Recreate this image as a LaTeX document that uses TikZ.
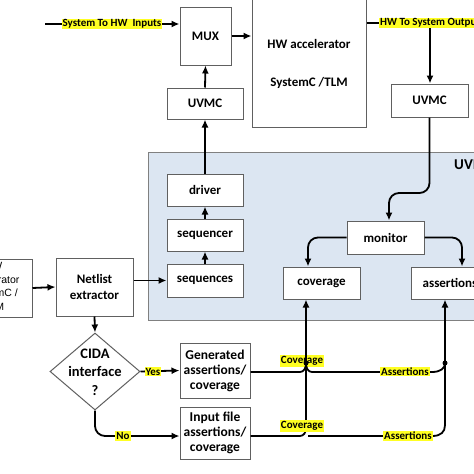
\documentclass[tikz,border=0pt]{standalone}
\usepackage{fontspec}
\setmainfont{Carlito}
\newfontfamily\arialf{Liberation Sans}
\usetikzlibrary{arrows.meta,shapes.geometric}
\definecolor{boxgray}{HTML}{606060}
\definecolor{envfill}{HTML}{DCE6F2}
\definecolor{envdraw}{HTML}{808080}
\definecolor{hlyellow}{HTML}{FFFF22}
\begin{document}
\begin{tikzpicture}[x=1pt,y=-1pt,
  box/.style={draw=boxgray, line width=1pt, fill=white, align=center, inner sep=0pt,
    font=\bfseries\fontsize{13}{15.5}\selectfont},
  txt/.style={font=\bfseries\fontsize{13}{15.5}\selectfont, align=center, inner sep=0pt},
  arr/.style={line width=1.8pt, -{Latex[length=8pt,width=7pt]}},
  ln/.style={line width=1.8pt},
  hl/.style={fill=hlyellow, inner sep=1pt, font=\bfseries\fontsize{11}{13}\selectfont},
  dot/.style={circle, fill=black, inner sep=0pt, minimum size=5pt}]
\useasboundingbox (0,0) rectangle (474,474);
\clip (0,0) rectangle (474,474);
\fill[white] (0,0) rectangle (474,474);

% UVM environment
\node[draw=envdraw, fill=envfill, line width=1pt, minimum width=360, minimum height=168, inner sep=0pt] (env) at (328,236) {};
\node[anchor=west, font=\bfseries\fontsize{15}{18}\selectfont, inner sep=0pt] (envlbl) at (454,165) {UVM};

% top boxes
\node[box, minimum width=51, minimum height=58] (mux) at (205.5,36) {MUX};
\node[box, minimum width=114, minimum height=134] (hw) at (309,60) {};
\node[txt] (hwt1) at (309,44) {HW accelerator};
\node[txt] (hwt2) at (309,83) {SystemC /TLM};
\node[box, minimum width=76, minimum height=31] (uvmcL) at (205,103.5) {UVMC};
\node[box, minimum width=77, minimum height=33] (uvmcR) at (429.5,100.5) {UVMC};

% env boxes
\node[box, minimum width=76, minimum height=32] (driver) at (205,190) {driver};
\node[box, minimum width=76, minimum height=32] (seqr) at (205,235) {sequencer};
\node[box, minimum width=76, minimum height=33] (seqs) at (205,280.5) {sequences};
\node[box, minimum width=77, minimum height=33] (monitor) at (385.5,237.5) {monitor};
\node[box, minimum width=77, minimum height=32] (cov) at (321.5,283) {coverage};
\node[box, minimum width=77, minimum height=32] (asrt) at (450,283) {assertions};

% left side
\node[draw=boxgray, line width=1pt, fill=white, minimum width=77, minimum height=58, inner sep=0pt] (leftbox) at (-6.5,288) {};
\node[font=\arialf\fontsize{10.5}{13.5}\selectfont, align=center, inner sep=0pt] (lefttxt) at (-6.5,286.5) {HW\\accelerator\\SystemC /\\TLM};
\node[box, minimum width=77, minimum height=58, font=\bfseries\fontsize{13}{16}\selectfont] (netlist) at (94.5,287) {Netlist\\extractor};
\node[draw=boxgray, line width=1pt, fill=white, diamond, minimum width=90, minimum height=77, inner sep=0pt] (dia) at (95,371.5) {};
\node[txt, font=\bfseries\fontsize{14.5}{18.5}\selectfont] (diatxt) at (95,372) {CIDA\\interface\\?};
\node[box, minimum width=70, minimum height=55, font=\bfseries\fontsize{13.5}{15}\selectfont] (gen) at (215,370.5) {Generated\\assertions/\\coverage};
\node[box, minimum width=70, minimum height=52, font=\bfseries\fontsize{13.5}{15}\selectfont] (inp) at (215,433) {Input file\\assertions/\\coverage};

% top connectors
\coordinate (sysin) at (45,24);
\draw[arr] (sysin) -- (sysin -| mux.west);
\node[hl] (lblin) at (112,24) {System To HW\ \ Inputs};
\draw[arr] (mux.east) -- (mux.east -| hw.west);
\coordinate (outend) at (490,23);
\coordinate (outdrop) at (430,23);
\draw[ln] (hw.east |- outend) -- (outend);
\draw[arr] (outdrop) -- (outdrop |- uvmcR.north);
\node[hl, anchor=west] (lblout) at (379,23) {HW To System Outputs};
\draw[arr] (uvmcL.north) -- (mux.south);
\draw[arr] (driver.north) -- (uvmcL.south);
\draw[arr] (seqr.north) -- (driver.south);
\draw[arr] (seqs.north) -- (seqr.south);

% monitor connections
\coordinate (mbend) at (389,193);
\draw[arr, rounded corners=10] (uvmcR.south) |- (mbend) -- (mbend |- monitor.north);
\draw[arr, rounded corners=10] (monitor.west) -| ([xshift=-13.5pt]cov.north);
\draw[arr, rounded corners=10] (monitor.east) -| ([xshift=12pt]asrt.north);

% left connectors
\draw[arr] (leftbox.east) -- (netlist.west);
\draw[arr] (netlist.east |- seqs.west) -- (seqs.west);
\draw[arr] (netlist.south) -- (dia.north);
\draw[arr] (dia.east) -- (gen.west);
\node[hl] (lblyes) at (153,371.5) {Yes};
\draw[arr, rounded corners=10] (dia.south) |- ([yshift=-3pt]inp.west);
\node[hl] (lblno) at (123,436) {No};

% coverage / assertions lines
\coordinate (jc1) at (306,363);
\coordinate (ja1) at (445,363);
\coordinate (jc2) at (306,428);
\coordinate (ja2) at (445,425);
\coordinate (gap2) at (308,436);
\node[hl] (lblcov1) at (302,361) {Coverage};
\draw[ln] ([yshift=-1.5pt]gen.east) -- (300,372) .. controls (304,372) and (306,368) .. (jc1);
\draw[ln] (jc1) .. controls (306,368) and (308,372) .. (312,372) -- (432,372) .. controls (441,372) and (445,368) .. (ja1);
\draw[arr] (jc1) -- (jc1 |- cov.south);
\draw[arr] (ja1) -- (ja1 |- asrt.south);
\draw[ln] (jc2) -- (jc1);
\draw[ln] (ja2) -- (ja1);
\draw[ln] ([yshift=-3pt]inp.east) -- (300,436) .. controls (304,436) and (306,432) .. (jc2);
\draw[ln] (gap2) -- (432,436) .. controls (441,436) and (445,432) .. (ja2);
\node[dot] (d1) at (jc1) {};
\node[dot] (d2) at (ja1) {};
\node[hl] (lblas1) at (405,371.5) {Assertions};
\node[hl] (lblcov2) at (302,426) {Coverage};
\node[hl] (lblas2) at (408,436) {Assertions};
\end{tikzpicture}
\end{document}
